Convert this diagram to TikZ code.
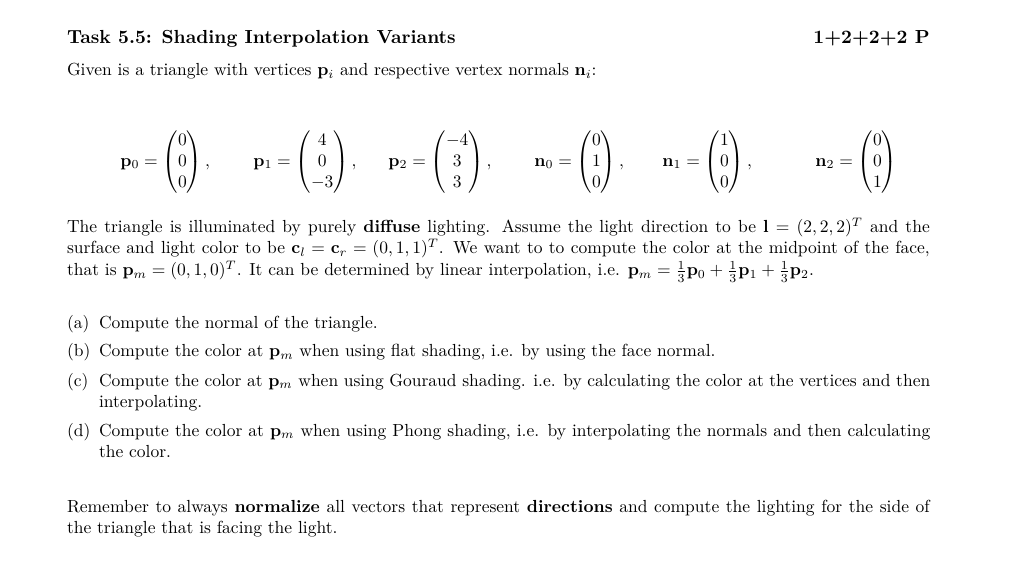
\documentclass[tikz,border=0pt]{standalone}
\usepackage{amsmath}
\usepackage{amssymb}
\begin{document}
\begin{tikzpicture}[x=0.5714pt,y=-0.5714pt]
\tikzset{ln/.style={anchor=base west,inner sep=0pt,outer sep=0pt},
  mt/.style={anchor=west,inner sep=0pt}}
\useasboundingbox (0,0) rectangle (1024,577);
\node[ln] (t) at (67,44) {\fontsize{10.8}{13}\selectfont\textbf{Task 5.5: Shading Interpolation Variants}};
\node[anchor=base east,inner sep=0pt] (pts) at (930,44) {\fontsize{10.8}{13}\selectfont\textbf{1+2+2+2 P}};
\node[ln] (g) at (67,76) {Given is a triangle with vertices $\mathbf{p}_i$ and respective vertex normals $\mathbf{n}_i$:};
\node[mt] (m0) at (120,162) {$\mathbf{p}_0=\begin{pmatrix}0\\0\\0\end{pmatrix},$};
\node[mt] (m1) at (253,162) {$\mathbf{p}_1=\begin{pmatrix}4\\0\\-3\end{pmatrix},$};
\node[mt] (m2) at (388,162) {$\mathbf{p}_2=\begin{pmatrix}-4\\3\\3\end{pmatrix},$};
\node[mt] (m3) at (534,162) {$\mathbf{n}_0=\begin{pmatrix}0\\1\\0\end{pmatrix},$};
\node[mt] (m4) at (662,162) {$\mathbf{n}_1=\begin{pmatrix}1\\0\\0\end{pmatrix},$};
\node[mt] (m5) at (815,162) {$\mathbf{n}_2=\begin{pmatrix}0\\0\\1\end{pmatrix}$};
\node[ln] (p1) at (67,233) {\makebox[493pt][s]{The triangle is illuminated by purely \textbf{diffuse} lighting. Assume the light direction to be $\mathbf{l}=(2,2,2)^T$ and the}};
\node[ln] (p2) at (67,254) {\makebox[493pt][s]{surface and light color to be $\mathbf{c}_l=\mathbf{c}_r=(0,1,1)^T$. We want to to compute the color at the midpoint of the face,}};
\node[ln] (p3) at (67,276) {that is $\mathbf{p}_m=(0,1,0)^T$. It can be determined by linear interpolation, i.e. $\mathbf{p}_m=\frac13\mathbf{p}_0+\frac13\mathbf{p}_1+\frac13\mathbf{p}_2$.};
\node[ln] (a) at (67,329) {(a)};
\node[ln] (at) at (99,329) {Compute the normal of the triangle.};
\node[ln] (b) at (67,357) {(b)};
\node[ln] (bt) at (99,357) {Compute the color at $\mathbf{p}_m$ when using flat shading, i.e. by using the face normal.};
\node[ln] (c) at (67,386) {(c)};
\node[ln] (ct) at (99,386) {\makebox[475pt][s]{Compute the color at $\mathbf{p}_m$ when using Gouraud shading. i.e. by calculating the color at the vertices and then}};
\node[ln] (ct2) at (99,407) {interpolating.};
\node[ln] (d) at (67,436) {(d)};
\node[ln] (dt) at (99,436) {\makebox[475pt][s]{Compute the color at $\mathbf{p}_m$ when using Phong shading, i.e. by interpolating the normals and then calculating}};
\node[ln] (dt2) at (99,457) {the color.};
\node[ln] (r1) at (67,512) {\makebox[493pt][s]{Remember to always \textbf{normalize} all vectors that represent \textbf{directions} and compute the lighting for the side of}};
\node[ln] (r2) at (67,533) {the triangle that is facing the light.};
\end{tikzpicture}
\end{document}
